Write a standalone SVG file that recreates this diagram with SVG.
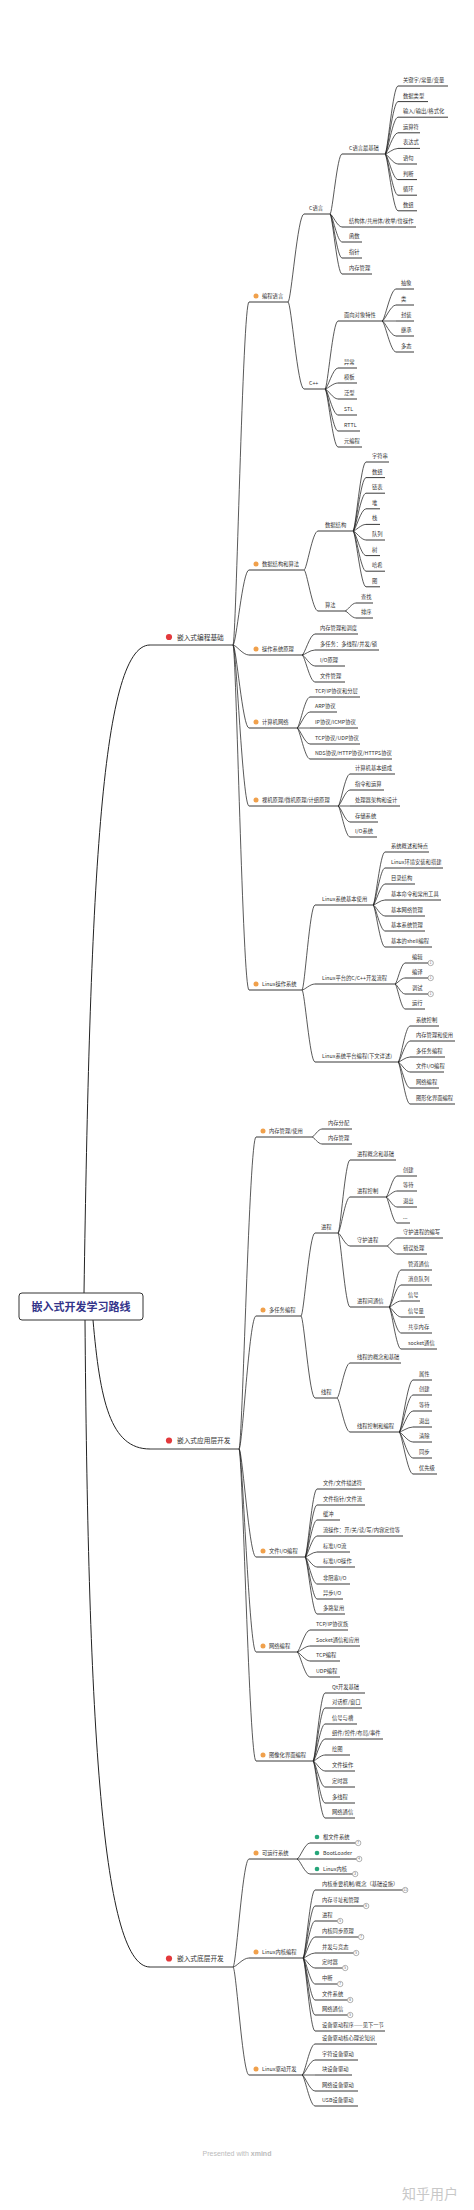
<svg xmlns="http://www.w3.org/2000/svg" width="474" height="2210" viewBox="0 0 474 2210">
<style>
text{font-family:"Noto Sans CJK SC","Noto Sans",sans-serif;fill:#333;font-size:5.3px}
.m{font-size:6.7px}
.r{font-size:11px;font-weight:bold;fill:#33348a}
.u{stroke:#222;stroke-width:0.9;fill:none}
.c{stroke:#222;stroke-width:0.75;fill:none}
.mc{stroke:#222;stroke-width:1;fill:none}
.od{fill:#f0a04b}
.rd{fill:#e3393c}
.gd{fill:#26a67a}
.k{fill:#fff;stroke:#666;stroke-width:0.5}
.kn{font-size:3px;fill:#555;text-anchor:middle}
.wm{font-family:"Liberation Sans",sans-serif;font-size:7px;fill:#bbb;text-anchor:middle}
.zh{font-size:14px;fill:#c8c8c8}
</style>
<rect width="474" height="2210" fill="#fff"/>
<g id="connectors">
<path class="mc" d="M84 1293C90 900 100 645 150 645M93 1320C100 1400 110 1449 150 1449M85 1320C88 1700 100 1967 150 1967"/>
<path class="c" d="M233 645C236.2 645 242.6 302 249 302M233 645C236.2 645 242.6 570 249 570M233 645C236.2 645 242.6 655 249 655M233 645C236.2 645 242.6 728 249 728M233 645C236.2 645 242.6 806 249 806M233 645C236.2 645 242.6 990 249 990"/>
<path class="c" d="M288 302C291.2 302 297.6 214 304 214M288 302C291.2 302 297.6 389 304 389"/>
<path class="c" d="M330 214C332.4 214 337.2 154 342 154M330 214C332.4 214 337.2 227 342 227M330 214C332.4 214 337.2 242 342 242M330 214C332.4 214 337.2 258 342 258M330 214C332.4 214 337.2 274 342 274"/>
<path class="c" d="M385 154C387.6 154 392.8 86 398 86M385 154C387.6 154 392.8 101.6 398 101.6M385 154C387.6 154 392.8 117.2 398 117.2M385 154C387.6 154 392.8 132.8 398 132.8M385 154C387.6 154 392.8 148.4 398 148.4M385 154C387.6 154 392.8 164 398 164M385 154C387.6 154 392.8 179.6 398 179.6M385 154C387.6 154 392.8 195.2 398 195.2M385 154C387.6 154 392.8 210.8 398 210.8"/>
<path class="c" d="M325 389C327.6 389 332.8 321 338 321M325 389C327.6 389 332.8 368 338 368M325 389C327.6 389 332.8 383 338 383M325 389C327.6 389 332.8 399 338 399M325 389C327.6 389 332.8 415 338 415M325 389C327.6 389 332.8 431 338 431M325 389C327.6 389 332.8 447 338 447"/>
<path class="c" d="M382 321C384.8 321 390.4 289 396 289M382 321C384.8 321 390.4 305 396 305M382 321L396 321M382 321C384.8 321 390.4 336 396 336M382 321C384.8 321 390.4 352 396 352"/>
<path class="c" d="M304 570C306.8 570 312.4 531 318 531M304 570C306.8 570 312.4 611 318 611"/>
<path class="c" d="M353 531C355.6 531 360.8 462 366 462M353 531C355.6 531 360.8 477.6 366 477.6M353 531C355.6 531 360.8 493.2 366 493.2M353 531C355.6 531 360.8 508.8 366 508.8M353 531C355.6 531 360.8 524.4 366 524.4M353 531C355.6 531 360.8 540 366 540M353 531C355.6 531 360.8 555.6 366 555.6M353 531C355.6 531 360.8 571.2 366 571.2M353 531C355.6 531 360.8 586.8 366 586.8"/>
<path class="c" d="M345 611C347.2 611 351.6 603 356 603M345 611C347.2 611 351.6 618 356 618"/>
<path class="c" d="M302 655C304.6 655 309.8 634 315 634M302 655C304.6 655 309.8 650 315 650M302 655C304.6 655 309.8 666 315 666M302 655C304.6 655 309.8 682 315 682"/>
<path class="c" d="M297 728C299.6 728 304.8 697 310 697M297 728C299.6 728 304.8 712 310 712M297 728L310 728M297 728C299.6 728 304.8 744 310 744M297 728C299.6 728 304.8 759 310 759"/>
<path class="c" d="M338 806C340.4 806 345.2 774 350 774M338 806C340.4 806 345.2 790 350 790M338 806L350 806M338 806C340.4 806 345.2 822 350 822M338 806C340.4 806 345.2 837 350 837"/>
<path class="c" d="M302 990C304.6 990 309.8 905 315 905M302 990C304.6 990 309.8 984 315 984M302 990C304.6 990 309.8 1062 315 1062"/>
<path class="c" d="M373 905C375.4 905 380.2 852 385 852M373 905C375.4 905 380.2 868 385 868M373 905C375.4 905 380.2 884 385 884M373 905C375.4 905 380.2 900 385 900M373 905C375.4 905 380.2 916 385 916M373 905C375.4 905 380.2 931 385 931M373 905C375.4 905 380.2 947 385 947"/>
<path class="c" d="M395 984C397 984 401 963 405 963M395 984C397 984 401 978 405 978M395 984C397 984 401 994 405 994M395 984C397 984 401 1009 405 1009"/>
<path class="c" d="M398 1062C400.4 1062 405.2 1026 410 1026M398 1062C400.4 1062 405.2 1041 410 1041M398 1062C400.4 1062 405.2 1057 410 1057M398 1062C400.4 1062 405.2 1072 410 1072M398 1062C400.4 1062 405.2 1088 410 1088M398 1062C400.4 1062 405.2 1104 410 1104"/>
<path class="c" d="M239 1449C242.4 1449 249.2 1137 256 1137M239 1449C242.4 1449 249.2 1316 256 1316M239 1449C242.4 1449 249.2 1557 256 1557M239 1449C242.4 1449 249.2 1652 256 1652M239 1449C242.4 1449 249.2 1761 256 1761"/>
<path class="c" d="M312 1137C314 1137 318 1129 322 1129M312 1137C314 1137 318 1144 322 1144"/>
<path class="c" d="M301 1316C303.8 1316 309.4 1233 315 1233M301 1316C303.8 1316 309.4 1398 315 1398"/>
<path class="c" d="M338 1233C340.4 1233 345.2 1160 350 1160M338 1233C340.4 1233 345.2 1197 350 1197M338 1233C340.4 1233 345.2 1246 350 1246M338 1233C340.4 1233 345.2 1307 350 1307"/>
<path class="c" d="M386 1197C388.2 1197 392.6 1176 397 1176M386 1197C388.2 1197 392.6 1191 397 1191M386 1197C388.2 1197 392.6 1207 397 1207M386 1197C388.2 1197 392.6 1223 397 1223"/>
<path class="c" d="M387 1246C389 1246 393 1238 397 1238M387 1246C389 1246 393 1254 397 1254"/>
<path class="c" d="M389 1307C391.4 1307 396.2 1270 401 1270M389 1307C391.4 1307 396.2 1285 401 1285M389 1307C391.4 1307 396.2 1301 401 1301M389 1307C391.4 1307 396.2 1317 401 1317M389 1307C391.4 1307 396.2 1333 401 1333M389 1307C391.4 1307 396.2 1349 401 1349"/>
<path class="c" d="M337 1398C339.6 1398 344.8 1363 350 1363M337 1398C339.6 1398 344.8 1432 350 1432"/>
<path class="c" d="M399 1432C401.8 1432 407.4 1380 413 1380M399 1432C401.8 1432 407.4 1395 413 1395M399 1432C401.8 1432 407.4 1411 413 1411M399 1432C401.8 1432 407.4 1427 413 1427M399 1432C401.8 1432 407.4 1442 413 1442M399 1432C401.8 1432 407.4 1458 413 1458M399 1432C401.8 1432 407.4 1474 413 1474"/>
<path class="c" d="M305 1557C307.4 1557 312.2 1489 317 1489M305 1557C307.4 1557 312.2 1505 317 1505M305 1557C307.4 1557 312.2 1520 317 1520M305 1557C307.4 1557 312.2 1536 317 1536M305 1557C307.4 1557 312.2 1552 317 1552M305 1557C307.4 1557 312.2 1567 317 1567M305 1557C307.4 1557 312.2 1584 317 1584M305 1557C307.4 1557 312.2 1599 317 1599M305 1557C307.4 1557 312.2 1614 317 1614"/>
<path class="c" d="M297 1652C299.6 1652 304.8 1630 310 1630M297 1652C299.6 1652 304.8 1646 310 1646M297 1652C299.6 1652 304.8 1661 310 1661M297 1652C299.6 1652 304.8 1677 310 1677"/>
<path class="c" d="M313 1761C315.4 1761 320.2 1693 325 1693M313 1761C315.4 1761 320.2 1708 325 1708M313 1761C315.4 1761 320.2 1724 325 1724M313 1761C315.4 1761 320.2 1739 325 1739M313 1761C315.4 1761 320.2 1755 325 1755M313 1761C315.4 1761 320.2 1771 325 1771M313 1761C315.4 1761 320.2 1787 325 1787M313 1761C315.4 1761 320.2 1803 325 1803M313 1761C315.4 1761 320.2 1818 325 1818"/>
<path class="c" d="M233 1967C236.2 1967 242.6 1859 249 1859M233 1967C236.2 1967 242.6 1958 249 1958M233 1967C236.2 1967 242.6 2075 249 2075"/>
<path class="c" d="M297 1859C299.6 1859 304.8 1843 310 1843M297 1859L310 1859M297 1859C299.6 1859 304.8 1874 310 1874"/>
<path class="c" d="M303 1958C305.4 1958 310.2 1890 315 1890M303 1958C305.4 1958 310.2 1906 315 1906M303 1958C305.4 1958 310.2 1921 315 1921M303 1958C305.4 1958 310.2 1937 315 1937M303 1958C305.4 1958 310.2 1953 315 1953M303 1958C305.4 1958 310.2 1968 315 1968M303 1958C305.4 1958 310.2 1984 315 1984M303 1958C305.4 1958 310.2 2000 315 2000M303 1958C305.4 1958 310.2 2015 315 2015M303 1958C305.4 1958 310.2 2031 315 2031"/>
<path class="c" d="M302 2075C304.6 2075 309.8 2044 315 2044M302 2075C304.6 2075 309.8 2060 315 2060M302 2075L315 2075M302 2075C304.6 2075 309.8 2091 315 2091M302 2075C304.6 2075 309.8 2106 315 2106"/>
</g>

<g id="root"><rect x="19" y="1293" width="124" height="27" rx="3" fill="#fff" stroke="#333" stroke-width="1"/><text class="r" x="81" y="1311" text-anchor="middle">嵌入式开发学习路线</text></g>

<g id="m1"><circle class="rd" cx="169" cy="637" r="3.1"/><text class="m" x="177" y="639.5">嵌入式编程基础</text><path class="u" d="M150 645H233"/></g>
<g id="m2"><circle class="rd" cx="169" cy="1440.5" r="3.1"/><text class="m" x="177" y="1443">嵌入式应用层开发</text><path class="u" d="M150 1449H239"/></g>
<g id="m3"><circle class="rd" cx="169" cy="1958.5" r="3.1"/><text class="m" x="177" y="1961">嵌入式底层开发</text><path class="u" d="M150 1967H233"/></g>

<g id="n-bcyy"><circle class="od" cx="256" cy="296" r="2.5"/><text x="262" y="298">编程语言</text><path class="u" d="M249 302H288"/></g>
<g id="n-c"><text x="309" y="210">C语言</text><path class="u" d="M304 214H330"/></g>
<g id="n-cbase"><text x="349" y="150">C语言最基础</text><path class="u" d="M342 154H385"/></g>
<g id="n-c1"><text x="403" y="82">关键字/常量/变量</text><path class="u" d="M398 86H448"/></g>
<g id="n-c2"><text x="403" y="97.6">数据类型</text><path class="u" d="M398 101.6H428"/></g>
<g id="n-c3"><text x="403" y="113.2">输入/输出/格式化</text><path class="u" d="M398 117.2H448"/></g>
<g id="n-c4"><text x="403" y="128.8">运算符</text><path class="u" d="M398 132.8H420"/></g>
<g id="n-c5"><text x="403" y="144.4">表达式</text><path class="u" d="M398 148.4H420"/></g>
<g id="n-c6"><text x="403" y="160">语句</text><path class="u" d="M398 164H417"/></g>
<g id="n-c7"><text x="403" y="175.6">判断</text><path class="u" d="M398 179.6H417"/></g>
<g id="n-c8"><text x="403" y="191.2">循环</text><path class="u" d="M398 195.2H417"/></g>
<g id="n-c9"><text x="403" y="206.8">数组</text><path class="u" d="M398 210.8H417"/></g>
<g id="n-c10"><text x="349" y="223">结构体/共用体/枚举/位操作</text><path class="u" d="M342 227H416"/></g>
<g id="n-c11"><text x="349" y="238">函数</text><path class="u" d="M342 242H362"/></g>
<g id="n-c12"><text x="349" y="254">指针</text><path class="u" d="M342 258H362"/></g>
<g id="n-c13"><text x="349" y="270">内存管理</text><path class="u" d="M342 274H372"/></g>
<g id="n-cpp"><text x="309" y="385">C++</text><path class="u" d="M304 389H325"/></g>
<g id="n-oo"><text x="344" y="317">面向对象特性</text><path class="u" d="M338 321H382"/></g>
<g id="n-oo1"><text x="401" y="285">抽象</text><path class="u" d="M396 289H414"/></g>
<g id="n-oo2"><text x="401" y="301">类</text><path class="u" d="M396 305H414"/></g>
<g id="n-oo3"><text x="401" y="317">封装</text><path class="u" d="M396 321H414"/></g>
<g id="n-oo4"><text x="401" y="332">继承</text><path class="u" d="M396 336H414"/></g>
<g id="n-oo5"><text x="401" y="348">多态</text><path class="u" d="M396 352H414"/></g>
<g id="n-cpp2"><text x="344" y="364">异常</text><path class="u" d="M338 368H357"/></g>
<g id="n-cpp3"><text x="344" y="379">模板</text><path class="u" d="M338 383H357"/></g>
<g id="n-cpp4"><text x="344" y="395">泛型</text><path class="u" d="M338 399H357"/></g>
<g id="n-cpp5"><text x="344" y="411">STL</text><path class="u" d="M338 415H357"/></g>
<g id="n-cpp6"><text x="344" y="427">RTTL</text><path class="u" d="M338 431H360"/></g>
<g id="n-cpp7"><text x="344" y="443">元编程</text><path class="u" d="M338 447H362"/></g>

<g id="n-ds"><circle class="od" cx="256" cy="564" r="2.5"/><text x="262" y="566">数据结构和算法</text><path class="u" d="M249 570H304"/></g>
<g id="n-ds1"><text x="325" y="527">数据结构</text><path class="u" d="M318 531H353"/></g>
<g id="n-ds1a"><text x="372" y="458">字符串</text><path class="u" d="M366 462H389"/></g>
<g id="n-ds1b"><text x="372" y="473.6">数组</text><path class="u" d="M366 477.6H385"/></g>
<g id="n-ds1c"><text x="372" y="489.2">链表</text><path class="u" d="M366 493.2H385"/></g>
<g id="n-ds1d"><text x="372" y="504.8">堆</text><path class="u" d="M366 508.8H380"/></g>
<g id="n-ds1e"><text x="372" y="520.4">栈</text><path class="u" d="M366 524.4H380"/></g>
<g id="n-ds1f"><text x="372" y="536">队列</text><path class="u" d="M366 540H385"/></g>
<g id="n-ds1g"><text x="372" y="551.6">树</text><path class="u" d="M366 555.6H380"/></g>
<g id="n-ds1h"><text x="372" y="567.2">哈希</text><path class="u" d="M366 571.2H385"/></g>
<g id="n-ds1i"><text x="372" y="582.8">图</text><path class="u" d="M366 586.8H380"/></g>
<g id="n-ds2"><text x="325" y="607">算法</text><path class="u" d="M318 611H345"/></g>
<g id="n-ds2a"><text x="361" y="599">查找</text><path class="u" d="M356 603H373"/></g>
<g id="n-ds2b"><text x="361" y="614">排序</text><path class="u" d="M356 618H373"/></g>

<g id="n-os"><circle class="od" cx="256" cy="649" r="2.5"/><text x="262" y="651">操作系统原理</text><path class="u" d="M249 655H302"/></g>
<g id="n-os1"><text x="320" y="630">内存管理和调度</text><path class="u" d="M315 634H358"/></g>
<g id="n-os2"><text x="320" y="646">多任务：多线程/并发/锁</text><path class="u" d="M315 650H379"/></g>
<g id="n-os3"><text x="320" y="662">I/O原理</text><path class="u" d="M315 666H345"/></g>
<g id="n-os4"><text x="320" y="678">文件管理</text><path class="u" d="M315 682H345"/></g>

<g id="n-net"><circle class="od" cx="256" cy="722" r="2.5"/><text x="262" y="724">计算机网络</text><path class="u" d="M249 728H297"/></g>
<g id="n-net1"><text x="315" y="693">TCP/IP协议和分层</text><path class="u" d="M310 697H360"/></g>
<g id="n-net2"><text x="315" y="708">ARP协议</text><path class="u" d="M310 712H337"/></g>
<g id="n-net3"><text x="315" y="724">IP协议/ICMP协议</text><path class="u" d="M310 728H358"/></g>
<g id="n-net4"><text x="315" y="740">TCP协议/UDP协议</text><path class="u" d="M310 744H360"/></g>
<g id="n-net5"><text x="315" y="755">NDS协议/HTTP协议/HTTPS协议</text><path class="u" d="M310 759H392"/></g>

<g id="n-hw"><circle class="od" cx="256" cy="800" r="2.5"/><text x="262" y="802">裸机原理/微机原理/计组原理</text><path class="u" d="M249 806H338"/></g>
<g id="n-hw1"><text x="355" y="770">计算机基本组成</text><path class="u" d="M350 774H395"/></g>
<g id="n-hw2"><text x="355" y="786">指令和运算</text><path class="u" d="M350 790H384"/></g>
<g id="n-hw3"><text x="355" y="802">处理器架构和设计</text><path class="u" d="M350 806H400"/></g>
<g id="n-hw4"><text x="355" y="818">存储系统</text><path class="u" d="M350 822H378"/></g>
<g id="n-hw5"><text x="355" y="833">I/O系统</text><path class="u" d="M350 837H377"/></g>

<g id="n-lx"><circle class="od" cx="256" cy="984" r="2.5"/><text x="262" y="986">Linux操作系统</text><path class="u" d="M249 990H302"/></g>
<g id="n-lx1"><text x="322" y="901">Linux系统基本使用</text><path class="u" d="M315 905H373"/></g>
<g id="n-lx1a"><text x="391" y="848">系统概述和特点</text><path class="u" d="M385 852H429"/></g>
<g id="n-lx1b"><text x="391" y="864">Linux环境安装和搭建</text><path class="u" d="M385 868H443"/></g>
<g id="n-lx1c"><text x="391" y="880">目录结构</text><path class="u" d="M385 884H415"/></g>
<g id="n-lx1d"><text x="391" y="896">基本命令和常用工具</text><path class="u" d="M385 900H441"/></g>
<g id="n-lx1e"><text x="391" y="912">基本网络管理</text><path class="u" d="M385 916H425"/></g>
<g id="n-lx1f"><text x="391" y="927">基本系统管理</text><path class="u" d="M385 931H425"/></g>
<g id="n-lx1g"><text x="391" y="943">基本的shell编程</text><path class="u" d="M385 947H432"/></g>
<g id="n-lx2"><text x="322" y="980">Linux平台的C/C++开发流程</text><path class="u" d="M315 984H395"/></g>
<g id="n-lx2a"><text x="412" y="959">编辑</text><path class="u" d="M405 963H428"/><circle class="k" cx="430.7" cy="963" r="2.7"/><text class="kn" x="430.7" y="964">1</text></g>
<g id="n-lx2b"><text x="412" y="974">编译</text><path class="u" d="M405 978H428"/><circle class="k" cx="430.7" cy="978" r="2.7"/><text class="kn" x="430.7" y="979">1</text></g>
<g id="n-lx2c"><text x="412" y="990">调试</text><path class="u" d="M405 994H428"/><circle class="k" cx="430.7" cy="994" r="2.7"/><text class="kn" x="430.7" y="995">1</text></g>
<g id="n-lx2d"><text x="412" y="1005">运行</text><path class="u" d="M405 1009H425"/></g>
<g id="n-lx3"><text x="322" y="1058">Linux系统平台编程(下文详述)</text><path class="u" d="M315 1062H398"/></g>
<g id="n-lx3a"><text x="416" y="1022">系统控制</text><path class="u" d="M410 1026H439"/></g>
<g id="n-lx3b"><text x="416" y="1037">内存管理和使用</text><path class="u" d="M410 1041H455"/></g>
<g id="n-lx3c"><text x="416" y="1053">多任务编程</text><path class="u" d="M410 1057H445"/></g>
<g id="n-lx3d"><text x="416" y="1068">文件I/O编程</text><path class="u" d="M410 1072H444"/></g>
<g id="n-lx3e"><text x="416" y="1084">网络编程</text><path class="u" d="M410 1088H439"/></g>
<g id="n-lx3f"><text x="416" y="1100">图形化界面编程</text><path class="u" d="M410 1104H455"/></g>

<g id="n-mem"><circle class="od" cx="263" cy="1131" r="2.5"/><text x="269" y="1133">内存管理/使用</text><path class="u" d="M256 1137H312"/></g>
<g id="n-mem1"><text x="328" y="1125">内存分配</text><path class="u" d="M322 1129H352"/></g>
<g id="n-mem2"><text x="328" y="1140">内存管理</text><path class="u" d="M322 1144H352"/></g>

<g id="n-mt"><circle class="od" cx="263" cy="1310" r="2.5"/><text x="269" y="1312">多任务编程</text><path class="u" d="M256 1316H301"/></g>
<g id="n-pr"><text x="321" y="1229">进程</text><path class="u" d="M315 1233H338"/></g>
<g id="n-pr1"><text x="357" y="1156">进程概念和基础</text><path class="u" d="M350 1160H396"/></g>
<g id="n-pr2"><text x="357" y="1193">进程控制</text><path class="u" d="M350 1197H386"/></g>
<g id="n-pr2a"><text x="403" y="1172">创建</text><path class="u" d="M397 1176H417"/></g>
<g id="n-pr2b"><text x="403" y="1187">等待</text><path class="u" d="M397 1191H417"/></g>
<g id="n-pr2c"><text x="403" y="1203">退出</text><path class="u" d="M397 1207H417"/></g>
<g id="n-pr2d"><text x="403" y="1219">...</text><path class="u" d="M397 1223H410"/></g>
<g id="n-pr3"><text x="357" y="1242">守护进程</text><path class="u" d="M350 1246H387"/></g>
<g id="n-pr3a"><text x="403" y="1234">守护进程的编写</text><path class="u" d="M397 1238H443"/></g>
<g id="n-pr3b"><text x="403" y="1250">错误处理</text><path class="u" d="M397 1254H427"/></g>
<g id="n-pr4"><text x="357" y="1303">进程间通信</text><path class="u" d="M350 1307H389"/></g>
<g id="n-pr4a"><text x="408" y="1266">管道通信</text><path class="u" d="M401 1270H432"/></g>
<g id="n-pr4b"><text x="408" y="1281">消息队列</text><path class="u" d="M401 1285H432"/></g>
<g id="n-pr4c"><text x="408" y="1297">信号</text><path class="u" d="M401 1301H420"/></g>
<g id="n-pr4d"><text x="408" y="1313">信号量</text><path class="u" d="M401 1317H425"/></g>
<g id="n-pr4e"><text x="408" y="1329">共享内存</text><path class="u" d="M401 1333H432"/></g>
<g id="n-pr4f"><text x="408" y="1345">socket通信</text><path class="u" d="M401 1349H437"/></g>
<g id="n-th"><text x="321" y="1394">线程</text><path class="u" d="M315 1398H337"/></g>
<g id="n-th1"><text x="357" y="1359">线程的概念和基础</text><path class="u" d="M350 1363H401"/></g>
<g id="n-th2"><text x="357" y="1428">线程控制和编程</text><path class="u" d="M350 1432H399"/></g>
<g id="n-th2a"><text x="419" y="1376">属性</text><path class="u" d="M413 1380H432"/></g>
<g id="n-th2b"><text x="419" y="1391">创建</text><path class="u" d="M413 1395H432"/></g>
<g id="n-th2c"><text x="419" y="1407">等待</text><path class="u" d="M413 1411H432"/></g>
<g id="n-th2d"><text x="419" y="1423">退出</text><path class="u" d="M413 1427H432"/></g>
<g id="n-th2e"><text x="419" y="1438">清除</text><path class="u" d="M413 1442H432"/></g>
<g id="n-th2f"><text x="419" y="1454">同步</text><path class="u" d="M413 1458H432"/></g>
<g id="n-th2g"><text x="419" y="1470">优先级</text><path class="u" d="M413 1474H437"/></g>

<g id="n-fio"><circle class="od" cx="263" cy="1551" r="2.5"/><text x="269" y="1553">文件I/O编程</text><path class="u" d="M256 1557H305"/></g>
<g id="n-fio1"><text x="323" y="1485">文件/文件描述符</text><path class="u" d="M317 1489H365"/></g>
<g id="n-fio2"><text x="323" y="1501">文件指针/文件流</text><path class="u" d="M317 1505H365"/></g>
<g id="n-fio3"><text x="323" y="1516">缓冲</text><path class="u" d="M317 1520H340"/></g>
<g id="n-fio4"><text x="323" y="1532">流操作：开/关/读/写/内容定位等</text><path class="u" d="M317 1536H403"/></g>
<g id="n-fio5"><text x="323" y="1548">标准I/O流</text><path class="u" d="M317 1552H350"/></g>
<g id="n-fio6"><text x="323" y="1563">标准I/O操作</text><path class="u" d="M317 1567H355"/></g>
<g id="n-fio7"><text x="323" y="1580">非阻塞I/O</text><path class="u" d="M317 1584H350"/></g>
<g id="n-fio8"><text x="323" y="1595">异步I/O</text><path class="u" d="M317 1599H343"/></g>
<g id="n-fio9"><text x="323" y="1610">多路复用</text><path class="u" d="M317 1614H345"/></g>

<g id="n-np"><circle class="od" cx="263" cy="1646" r="2.5"/><text x="269" y="1648">网络编程</text><path class="u" d="M256 1652H297"/></g>
<g id="n-np1"><text x="316" y="1626">TCP/IP协议族</text><path class="u" d="M310 1630H348"/></g>
<g id="n-np2"><text x="316" y="1642">Socket通信和应用</text><path class="u" d="M310 1646H360"/></g>
<g id="n-np3"><text x="316" y="1657">TCP编程</text><path class="u" d="M310 1661H340"/></g>
<g id="n-np4"><text x="316" y="1673">UDP编程</text><path class="u" d="M310 1677H340"/></g>

<g id="n-gui"><circle class="od" cx="263" cy="1755" r="2.5"/><text x="269" y="1757">图像化界面编程</text><path class="u" d="M256 1761H313"/></g>
<g id="n-gui1"><text x="332" y="1689">Qt开发基础</text><path class="u" d="M325 1693H365"/></g>
<g id="n-gui2"><text x="332" y="1704">对话框/窗口</text><path class="u" d="M325 1708H362"/></g>
<g id="n-gui3"><text x="332" y="1720">信号与槽</text><path class="u" d="M325 1724H357"/></g>
<g id="n-gui4"><text x="332" y="1735">组件/控件/布局/事件</text><path class="u" d="M325 1739H383"/></g>
<g id="n-gui5"><text x="332" y="1751">绘图</text><path class="u" d="M325 1755H350"/></g>
<g id="n-gui6"><text x="332" y="1767">文件操作</text><path class="u" d="M325 1771H355"/></g>
<g id="n-gui7"><text x="332" y="1783">定时器</text><path class="u" d="M325 1787H355"/></g>
<g id="n-gui8"><text x="332" y="1799">多线程</text><path class="u" d="M325 1803H355"/></g>
<g id="n-gui9"><text x="332" y="1814">网络通信</text><path class="u" d="M325 1818H355"/></g>

<g id="n-run"><circle class="od" cx="256" cy="1853" r="2.5"/><text x="262" y="1855">可运行系统</text><path class="u" d="M249 1859H297"/></g>
<g id="n-run1"><circle class="gd" cx="317" cy="1837" r="2.3"/><text x="323" y="1839">根文件系统</text><path class="u" d="M310 1843H355.5"/><circle class="k" cx="358.2" cy="1843" r="2.7"/><text class="kn" x="358.2" y="1844">7</text></g>
<g id="n-run2"><circle class="gd" cx="317" cy="1853" r="2.3"/><text x="323" y="1855">BootLoader</text><path class="u" d="M310 1859H356.5"/><circle class="k" cx="359.2" cy="1859" r="2.7"/><text class="kn" x="359.2" y="1860">4</text></g>
<g id="n-run3"><circle class="gd" cx="317" cy="1869" r="2.3"/><text x="323" y="1871">Linux内核</text><path class="u" d="M310 1874H352.5"/><circle class="k" cx="355.2" cy="1874" r="2.7"/><text class="kn" x="355.2" y="1875">3</text></g>

<g id="n-kn"><circle class="od" cx="256" cy="1952" r="2.5"/><text x="262" y="1954">Linux内核编程</text><path class="u" d="M249 1958H303"/></g>
<g id="n-kn1"><text x="322" y="1886">内核重要机制/概念（基础设施）</text><path class="u" d="M315 1890H402.5"/><circle class="k" cx="405.2" cy="1890" r="2.7"/><text class="kn" x="405.2" y="1891">11</text></g>
<g id="n-kn2"><text x="322" y="1902">内存寻址和管理</text><path class="u" d="M315 1906H363.5"/><circle class="k" cx="366.2" cy="1906" r="2.7"/><text class="kn" x="366.2" y="1907">6</text></g>
<g id="n-kn3"><text x="322" y="1917">进程</text><path class="u" d="M315 1921H337.5"/><circle class="k" cx="340.2" cy="1921" r="2.7"/><text class="kn" x="340.2" y="1922">5</text></g>
<g id="n-kn4"><text x="322" y="1933">内核同步原理</text><path class="u" d="M315 1937H358.5"/><circle class="k" cx="361.2" cy="1937" r="2.7"/><text class="kn" x="361.2" y="1938">7</text></g>
<g id="n-kn5"><text x="322" y="1949">并发与竞态</text><path class="u" d="M315 1953H353.5"/><circle class="k" cx="356.2" cy="1953" r="2.7"/><text class="kn" x="356.2" y="1954">5</text></g>
<g id="n-kn6"><text x="322" y="1964">定时器</text><path class="u" d="M315 1968H342.5"/><circle class="k" cx="345.2" cy="1968" r="2.7"/><text class="kn" x="345.2" y="1969">5</text></g>
<g id="n-kn7"><text x="322" y="1980">中断</text><path class="u" d="M315 1984H337.5"/><circle class="k" cx="340.2" cy="1984" r="2.7"/><text class="kn" x="340.2" y="1985">7</text></g>
<g id="n-kn8"><text x="322" y="1996">文件系统</text><path class="u" d="M315 2000H347.5"/><circle class="k" cx="350.2" cy="2000" r="2.7"/><text class="kn" x="350.2" y="2001">6</text></g>
<g id="n-kn9"><text x="322" y="2011">网络通信</text><path class="u" d="M315 2015H347.5"/><circle class="k" cx="350.2" cy="2015" r="2.7"/><text class="kn" x="350.2" y="2016">5</text></g>
<g id="n-kn10"><text x="322" y="2027">设备驱动程序——见下一节</text><path class="u" d="M315 2031H385"/></g>

<g id="n-drv"><circle class="od" cx="256" cy="2069" r="2.5"/><text x="262" y="2071">Linux驱动开发</text><path class="u" d="M249 2075H302"/></g>
<g id="n-drv1"><text x="322" y="2040">设备驱动核心理论知识</text><path class="u" d="M315 2044H377"/></g>
<g id="n-drv2"><text x="322" y="2056">字符设备驱动</text><path class="u" d="M315 2060H358"/></g>
<g id="n-drv3"><text x="322" y="2071">块设备驱动</text><path class="u" d="M315 2075H352"/></g>
<g id="n-drv4"><text x="322" y="2087">网络设备驱动</text><path class="u" d="M315 2091H358"/></g>
<g id="n-drv5"><text x="322" y="2102">USB设备驱动</text><path class="u" d="M315 2106H358"/></g>

<text class="wm" x="237" y="2156">Presented with <tspan font-weight="bold">xmind</tspan></text>
<text class="zh" x="402" y="2199">知乎用户</text>
</svg>
